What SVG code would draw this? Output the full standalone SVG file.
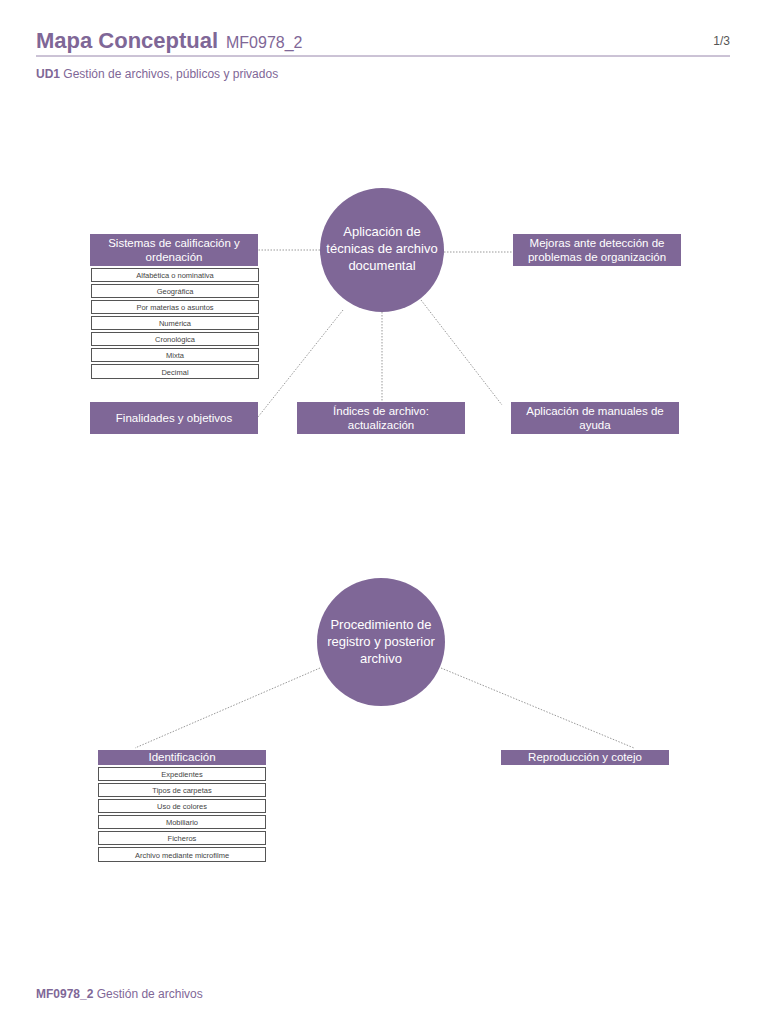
<svg xmlns="http://www.w3.org/2000/svg" width="768" height="1024" viewBox="0 0 768 1024">
<style>
text{font-family:"Liberation Sans",Arial,sans-serif}
.p{fill:#7f6797}
.c{fill:#7f6797}
.n{fill:#7f6797}
.w{fill:#fff;font-size:11.5px;text-anchor:middle}
.wc{fill:#fff;font-size:13px;text-anchor:middle}
.s{fill:#fff;stroke:#555;stroke-width:1}
.st{fill:#444;font-size:7.5px;text-anchor:middle}
.l{stroke:#999;stroke-width:1;stroke-dasharray:1.5 1.5;fill:none}
</style>
<rect width="768" height="1024" fill="#fff"/>
<text x="36" y="48" class="p" font-size="22" font-weight="bold">Mapa Conceptual</text>
<text x="226" y="48" class="p" font-size="16">MF0978_2</text>
<text x="730" y="45" fill="#555" font-size="12" text-anchor="end">1/3</text>
<line x1="36" y1="56" x2="730" y2="56" stroke="#7f6797" stroke-width="0.8"/>
<text x="36" y="78" class="p" font-size="12"><tspan font-weight="bold">UD1</tspan> Gestión de archivos, públicos y privados</text>
<text x="36" y="998" class="p" font-size="12"><tspan font-weight="bold">MF0978_2</tspan> Gestión de archivos</text>
<g id="connectors">
<line class="l" x1="320" y1="250" x2="258" y2="250"/>
<line class="l" x1="444" y1="252" x2="513" y2="252"/>
<line class="l" x1="343" y1="310" x2="258" y2="417"/>
<line class="l" x1="382" y1="312" x2="382" y2="402"/>
<line class="l" x1="421" y1="300" x2="502" y2="405"/>
<line class="l" x1="320" y1="668" x2="135" y2="748"/>
<line class="l" x1="441" y1="668" x2="634" y2="748"/>
</g>
<g id="c1"><circle cx="382" cy="250" r="62" class="c"/>
<text class="wc" x="382" y="236">Aplicación de</text><text class="wc" x="382" y="253">técnicas de archivo</text><text class="wc" x="382" y="270">documental</text></g>
<g id="sistemas"><rect x="90" y="234" width="168" height="32" class="n"/>
<text class="w" x="174" y="247">Sistemas de calificación y</text><text class="w" x="174" y="261">ordenación</text>
<rect class="s" x="91.5" y="268.5" width="167" height="13"/><text class="st" x="175" y="278">Alfabética o nominativa</text>
<rect class="s" x="91.5" y="284.5" width="167" height="13"/><text class="st" x="175" y="294">Geográfica</text>
<rect class="s" x="91.5" y="300.5" width="167" height="13"/><text class="st" x="175" y="310">Por materias o asuntos</text>
<rect class="s" x="91.5" y="316.5" width="167" height="13"/><text class="st" x="175" y="326">Numérica</text>
<rect class="s" x="91.5" y="332.5" width="167" height="13"/><text class="st" x="175" y="342">Cronológica</text>
<rect class="s" x="91.5" y="348.5" width="167" height="13"/><text class="st" x="175" y="358">Mixta</text>
<rect class="s" x="91.5" y="364.5" width="167" height="14"/><text class="st" x="175" y="375">Decimal</text></g>
<g id="mejoras"><rect x="513" y="234" width="168" height="32" class="n"/>
<text class="w" x="597" y="247">Mejoras ante detección de</text><text class="w" x="597" y="261">problemas de organización</text></g>
<g id="finalidades"><rect x="90" y="402" width="168" height="32" class="n"/>
<text class="w" x="174" y="422">Finalidades y objetivos</text></g>
<g id="indices"><rect x="297" y="402" width="168" height="32" class="n"/>
<text class="w" x="381" y="415">Índices de archivo:</text><text class="w" x="381" y="429">actualización</text></g>
<g id="manuales"><rect x="511" y="402" width="168" height="32" class="n"/>
<text class="w" x="595" y="415">Aplicación de manuales de</text><text class="w" x="595" y="429">ayuda</text></g>
<g id="c2"><circle cx="381" cy="642" r="64" class="c"/>
<text class="wc" x="381" y="629">Procedimiento de</text><text class="wc" x="381" y="646">registro y posterior</text><text class="wc" x="381" y="663">archivo</text></g>
<g id="identificacion"><rect x="98" y="750" width="168" height="15" class="n"/>
<text class="w" x="182" y="761">Identificación</text>
<rect class="s" x="98.5" y="767.5" width="167" height="13"/><text class="st" x="182" y="777">Expedientes</text>
<rect class="s" x="98.5" y="783.5" width="167" height="13"/><text class="st" x="182" y="793">Tipos de carpetas</text>
<rect class="s" x="98.5" y="799.5" width="167" height="13"/><text class="st" x="182" y="809">Uso de colores</text>
<rect class="s" x="98.5" y="815.5" width="167" height="13"/><text class="st" x="182" y="825">Mobiliario</text>
<rect class="s" x="98.5" y="831.5" width="167" height="13"/><text class="st" x="182" y="841">Ficheros</text>
<rect class="s" x="98.5" y="847.5" width="167" height="14"/><text class="st" x="182" y="858">Archivo mediante microfilme</text></g>
<g id="reproduccion"><rect x="501" y="750" width="168" height="15" class="n"/>
<text class="w" x="585" y="761">Reproducción y cotejo</text></g>
</svg>
